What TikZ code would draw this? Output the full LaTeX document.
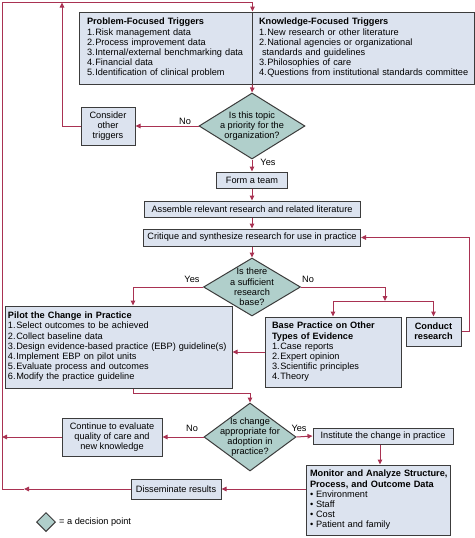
\documentclass[tikz,border=0pt]{standalone}
\usepackage{fontspec}
\setmainfont{Liberation Sans}
\usetikzlibrary{arrows.meta,shapes.geometric}
\definecolor{conncol}{RGB}{169,50,82}
\definecolor{boxfill}{RGB}{220,227,239}
\definecolor{decfill}{RGB}{176,207,203}
\definecolor{boxline}{RGB}{60,60,60}
\newcommand\fs{\fontsize{9.2}{10.2}\selectfont}
\newcommand\itm[2]{\mbox{\makebox[8.3pt][l]{#1.}#2}}
\newcommand\bul[1]{\mbox{\makebox[6pt][l]{•}#1}}
\newcommand\ttl[1]{\mbox{\textbf{#1}}}
\begin{document}
\begin{tikzpicture}[x=1pt,y=-1pt,
  box/.style={draw=boxline, fill=boxfill, line width=1pt, inner sep=0pt, font=\fs, align=center},
  lbox/.style={box, align=left},
  dec/.style={diamond, draw=boxline, fill=decfill, line width=1pt, inner sep=0pt},
  dtxt/.style={font=\fs, align=center, inner sep=0pt},
  lbl/.style={font=\fs, inner sep=0pt},
  conn/.style={draw=conncol, line width=1pt},
  arr/.style={conn, -{Triangle[length=5pt,width=4.5pt]}}]
\useasboundingbox (0,0) rectangle (474,538);

% coordinates for free ends / routing
\coordinate (top) at (0,2);
\coordinate (lx) at (2,0);
\coordinate (ctop) at (62,2.5);
\coordinate (px) at (133,0);
\coordinate (split) at (385,301);
\coordinate (rx) at (469,0);
\coordinate (dj) at (0,393);
\coordinate (mx) at (380,0);
\coordinate (ma) at (24,489);

% trigger boxes
\node[lbox, minimum width=173pt, minimum height=72pt, text width=157pt, inner xsep=8pt] (tl) at (165.5,48)
 {\ttl{Problem-Focused Triggers}\\
  \itm{1}{Risk management data}\\
  \itm{2}{Process improvement data}\\
  \itm{3}{Internal/external benchmarking data}\\
  \itm{4}{Financial data}\\
  \itm{5}{Identification of clinical problem}};
\node[lbox, minimum width=222pt, minimum height=72pt, text width=208pt, inner xsep=7pt] (tr) at (363,48)
 {\ttl{Knowledge-Focused Triggers}\\
  \itm{1}{New research or other literature}\\
  \itm{2}{National agencies or organizational}\\
  \mbox{\hspace*{3pt}standards and guidelines}\\
  \itm{3}{Philosophies of care}\\
  \itm{4}{Questions from institutional standards committee}};

% decision 1
\node[dec, minimum width=106pt, minimum height=66pt] (d1) at (252,126) {};
\node[dtxt] (d1t) at (252,126) {Is this topic\\a priority for the\\organization?};
\node[box, minimum width=54pt, minimum height=38pt] (cons) at (108,126) {Consider\\other\\triggers};
\node[box, minimum width=71pt, minimum height=16pt] (team) at (252,180) {Form a team};
\node[box, minimum width=216pt, minimum height=16pt] (asm) at (252,209) {Assemble relevant research and related literature};
\node[box, minimum width=217pt, minimum height=17pt] (crit) at (252,237.5) {Critique and synthesize research for use in practice};

% decision 2
\node[dec, minimum width=97pt, minimum height=58pt] (d2) at (252,287) {};
\node[dtxt] (d2t) at (252,287) {Is there\\a sufficient\\research\\base?};

\node[lbox, minimum width=227pt, minimum height=82pt, text width=221pt, inner xsep=3pt] (pilot) at (118.5,347)
 {\ttl{Pilot the Change in Practice}\\
  \itm{1}{Select outcomes to be achieved}\\
  \itm{2}{Collect baseline data}\\
  \itm{3}{Design evidence-based practice (EBP) guideline(s)}\\
  \itm{4}{Implement EBP on pilot units}\\
  \itm{5}{Evaluate process and outcomes}\\
  \itm{6}{Modify the practice guideline}};
\node[lbox, minimum width=136pt, minimum height=70pt, text width=122pt, inner xsep=7pt] (base) at (333,352)
 {\ttl{Base Practice on Other}\\
  \ttl{Types of Evidence}\\
  \itm{1}{Case reports}\\
  \itm{2}{Expert opinion}\\
  \itm{3}{Scientific principles}\\
  \itm{4}{Theory}};
\node[box, minimum width=55pt, minimum height=29pt] (conduct) at (433.5,331.5) {\ttl{Conduct}\\\ttl{research}};

% decision 3
\node[dec, minimum width=92pt, minimum height=68pt] (d3) at (250,437) {};
\node[dtxt] (d3t) at (250,437) {Is change\\appropriate for\\adoption in\\practice?};
\node[box, minimum width=100pt, minimum height=38pt] (cont) at (112,437) {Continue to evaluate\\quality of care and\\new knowledge};
\node[box, minimum width=140pt, minimum height=16pt] (inst) at (383,436) {Institute the change in practice};
\node[lbox, minimum width=144pt, minimum height=70pt, text width=136pt, inner xsep=4pt] (mon) at (378,500)
 {\ttl{Monitor and Analyze Structure,}\\
  \ttl{Process, and Outcome Data}\\
  \bul{Environment}\\
  \bul{Staff}\\
  \bul{Cost}\\
  \bul{Patient and family}};
\node[box, minimum width=90pt, minimum height=20pt] (diss) at (176,489) {Disseminate results};

% legend
\node[dec, minimum width=19pt, minimum height=19pt] (leg) at (46,522) {};
\node[lbl, anchor=west] (legt) at (59,522) {= a decision point};

% labels
\node[lbl] (no1) at (185,121) {No};
\node[lbl] (yes1) at (268,162) {Yes};
\node[lbl] (yes2) at (192,279) {Yes};
\node[lbl] (no2) at (308,279) {No};
\node[lbl] (no3) at (192,428) {No};
\node[lbl] (yes3) at (299,428) {Yes};

% connectors
\draw[arr] (tl.south east) -- (d1.north);
\draw[arr] (d1.west) -- (cons.east);
\draw[arr] (cons.west) -| (ctop);
\draw[arr] (d1.south) -- (d1.south |- team.north);
\draw[arr] (team.south -| d1.south) -- (d1.south |- asm.north);
\draw[arr] (asm.south -| d1.south) -- (d1.south |- crit.north);
\draw[arr] (crit.south -| d2.north) -- (d2.north);
\draw[arr] (d2.west) -| (px |- pilot.north);
\draw[arr] (d2.east) -| (split);
\draw[conn] (base.north |- split) -- (conduct.north |- split);
\draw[arr] (base.north |- split) -- (base.north);
\draw[arr] (conduct.north |- split) -- (conduct.north);
\draw[arr] (conduct.east) -- (rx |- conduct.east) -- (rx |- crit.east) -- (crit.east);
\draw[arr] (base.west) -- (pilot.east |- base.west);
\draw[arr] (px |- pilot.south) -- (px |- dj) -| (d3.north);
\draw[arr] (d3.west) -- (cont.east);
\draw[arr] (cont.west) -- (lx |- cont.west);
\draw[arr] (d3.east) -- (inst.west);
\draw[arr] (mx |- inst.south) -- (mx |- mon.north);
\draw[arr] (mon.west |- diss.east) -- (diss.east);
\draw[arr] (diss.west) -- (ma);
\draw[arr] (ma) -- (lx |- ma) -- (lx |- top) -- (tl.north east |- top) -- (tl.north east);
\end{tikzpicture}
\end{document}
